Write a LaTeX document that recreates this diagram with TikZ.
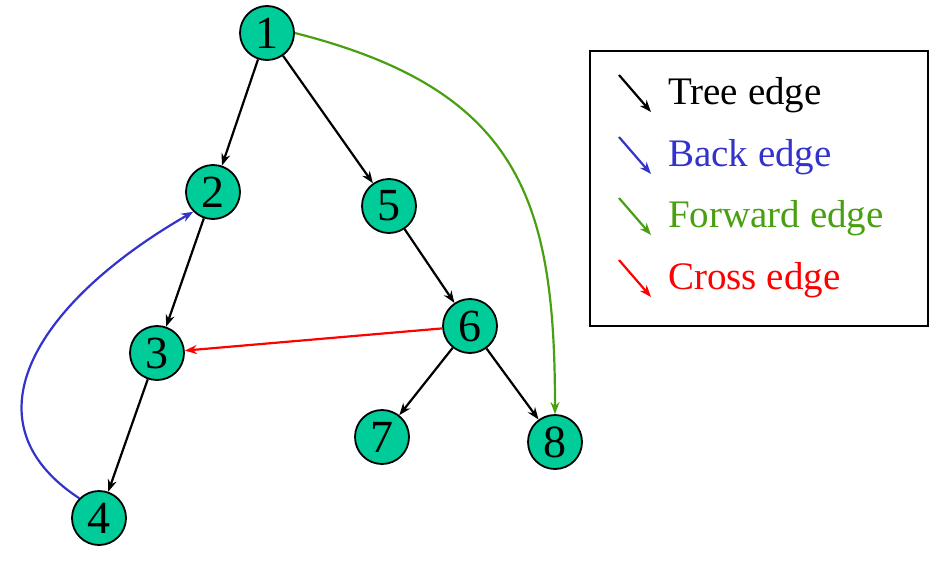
\documentclass[tikz,border=0pt]{standalone}
\usepackage{fontspec}
\setmainfont{Liberation Serif}
\usetikzlibrary{arrows.meta}
\definecolor{nodegreen}{RGB}{0,204,153}
\definecolor{backblue}{RGB}{51,51,204}
\definecolor{fwdgreen}{RGB}{72,160,16}
\definecolor{crossred}{RGB}{255,0,0}
\begin{document}
\begin{tikzpicture}[x=1pt,y=-1pt,
  vtx/.style={circle,draw=black,line width=1.8pt,fill=nodegreen,minimum size=54pt,inner sep=0pt,font=\fontsize{46}{46}\selectfont},
  edge/.style={line width=2.2pt,-{Stealth[length=12pt,width=9pt]}},
  lbl/.style={anchor=west,font=\fontsize{39}{39}\selectfont,inner sep=0pt}]
\useasboundingbox (0,0) rectangle (937,562);
\node[vtx] (n1) at (267,33) {1};
\node[vtx] (n2) at (213,192) {2};
\node[vtx] (n5) at (389,206) {5};
\node[vtx] (n3) at (157,353) {3};
\node[vtx] (n6) at (470,326) {6};
\node[vtx] (n7) at (382,437) {7};
\node[vtx] (n8) at (555,442) {8};
\node[vtx] (n4) at (99,518) {4};
\draw[edge] (n1) -- (n2);
\draw[edge] (n1) -- (n5);
\draw[edge] (n2) -- (n3);
\draw[edge] (n3) -- (n4);
\draw[edge] (n5) -- (n6);
\draw[edge] (n6) -- (n7);
\draw[edge] (n6) -- (n8);
\draw[edge,crossred] (n6) -- (n3);
\draw[edge,backblue] (n4.135) .. controls (-40,420) and (40,300) .. (n2.225);
\draw[edge,fwdgreen] (n1.east) .. controls (520,90) and (555,200) .. (n8.north);
\node[draw=black,line width=1.5pt,minimum width=338pt,minimum height=275pt,inner sep=0pt] (legend) at (759,188.5) {};
\foreach \y/\c/\t [count=\i] in {95/black/Tree edge,157/backblue/Back edge,218/fwdgreen/Forward edge,280/crossred/Cross edge}{
  \coordinate (a\i) at (619,\y-20);
  \coordinate (b\i) at (651,\y+17);
  \draw[edge,\c] (a\i) -- (b\i);
  \node[lbl,text=\c] (t\i) at (668,\y) {\t};
}
\end{tikzpicture}
\end{document}
